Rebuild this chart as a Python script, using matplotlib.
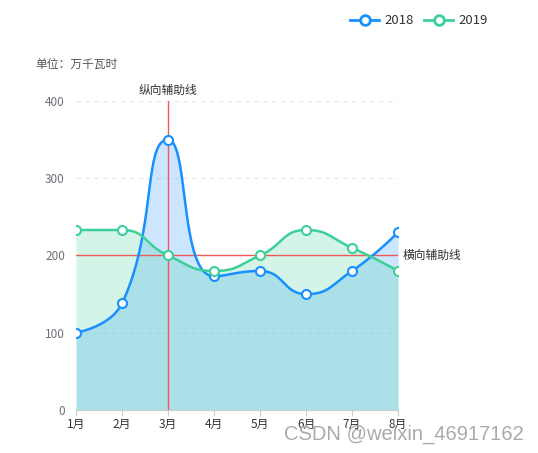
import numpy as np
import matplotlib
matplotlib.use("Agg")
import matplotlib.pyplot as plt
from matplotlib.lines import Line2D

plt.rcParams['font.family'] = ['Noto Sans CJK SC', 'DejaVu Sans']

months = ['1月', '2月', '3月', '4月', '5月', '6月', '7月', '8月']
y2018 = [100, 138, 350, 173, 180, 150, 180, 230]
y2019 = [233, 233, 200, 180, 200, 233, 210, 180]
mark_x = 2      # 3月
mark_y = 200

blue = '#1890ff'
green = '#3ccf9a'

W, H = 538, 453
fig = plt.figure(figsize=(W / 100, H / 100), dpi=100)
ax = fig.add_axes([76 / W, 43 / H, 322 / W, 309 / H])
ax.set_xlim(0, 7)
ax.set_ylim(0, 400)

# pixel scale, used for echarts-like smoothing
sx = 322 / 7
sy = 309 / 400


def smooth(xs, ys, k=0.5, n=40):
    # bezier smoothing with control points kept inside neighbour extremes
    px = np.array(xs, float) * sx
    py = np.array(ys, float) * sy
    m = len(px)
    cin = [(px[0], py[0])] * m
    cout = [(px[0], py[0])] * m
    cin[-1] = (px[-1], py[-1])
    for i in range(1, m - 1):
        x0, y0 = px[i - 1], py[i - 1]
        x, y = px[i], py[i]
        x2, y2 = px[i + 1], py[i + 1]
        vx, vy = x2 - x0, y2 - y0
        l0 = np.hypot(x - x0, y - y0)
        l1 = np.hypot(x2 - x, y2 - y)
        r = l1 / (l0 + l1)
        cx0 = x + vx * k * r
        cy0 = y + vy * k * r
        cx0 = max(min(cx0, max(x2, x)), min(x2, x))
        cy0 = max(min(cy0, max(y2, y)), min(y2, y))
        vx, vy = cx0 - x, cy0 - y
        cx1 = x - vx * l0 / l1
        cy1 = y - vy * l0 / l1
        cx1 = max(min(cx1, max(x0, x)), min(x0, x))
        cy1 = max(min(cy1, max(y0, y)), min(y0, y))
        vx, vy = x - cx1, y - cy1
        cx0 = x + vx * l1 / l0
        cy0 = y + vy * l1 / l0
        cin[i] = (cx1, cy1)
        cout[i] = (cx0, cy0)
    outx, outy = [], []
    t = np.linspace(0, 1, n)[:, None]
    for i in range(m - 1):
        p0 = np.array([px[i], py[i]])
        p1 = np.array(cout[i])
        p2 = np.array(cin[i + 1])
        p3 = np.array([px[i + 1], py[i + 1]])
        b = (1 - t) ** 3 * p0 + 3 * (1 - t) ** 2 * t * p1 + 3 * (1 - t) * t ** 2 * p2 + t ** 3 * p3
        outx.extend(b[:, 0])
        outy.extend(b[:, 1])
    return np.array(outx) / sx, np.array(outy) / sy


x = np.arange(len(months))
for y in [100, 200, 300, 400]:
    ax.axhline(y, color='#e0e6f1', lw=0.8, ls=(0, (4, 4)), zorder=0)

for ys, c in [(y2018, blue), (y2019, green)]:
    sxs, sys_ = smooth(x, ys)
    ax.fill_between(sxs, 0, sys_, color=c, alpha=0.22, lw=0, zorder=1)
    ax.plot(sxs, sys_, color=c, lw=1.8, zorder=3)
    ax.plot(x, ys, 'o', ms=6.5, mfc='white', mec=c, mew=1.5, zorder=4)

ax.axvline(mark_x, color='#ee5a5a', lw=1.0, zorder=2.5, snap=True)
ax.axhline(mark_y, color='#ee5a5a', lw=1.0, zorder=2.5, snap=True)
ax.text(mark_x, 405, '纵向辅助线', ha='center', va='bottom', fontsize=8.5, color='#333333')
ax.text(7.1, mark_y, '横向辅助线', ha='left', va='center', fontsize=8.5, color='#333333')

ax.set_xticks(x)
ax.set_xticklabels(months, fontsize=8.5, color='#333333')
ax.set_yticks([0, 100, 200, 300, 400])
ax.tick_params(axis='y', length=0, pad=8, labelsize=8.5, labelcolor='#6e7079')
ax.tick_params(axis='x', length=4, color='#cccccc', pad=2)
for s in ['top', 'right', 'left']:
    ax.spines[s].set_visible(False)
ax.spines['bottom'].set_color('#cccccc')
ax.patch.set_alpha(0)

fig.text(35 / W, 1 - 64 / H, '单位：万千瓦时', ha='left', va='center', fontsize=8.5, color='#555555')

# legend
handles = [Line2D([], [], color=blue, lw=2, marker='o', ms=7, mfc='white', mec=blue, mew=2),
           Line2D([], [], color=green, lw=2, marker='o', ms=7, mfc='white', mec=green, mew=2)]
fig.legend(handles, ['2018', '2019'], loc='center', bbox_to_anchor=(419 / W, 1 - 21 / H),
           ncol=2, frameon=False, fontsize=9.5, handlelength=2.2, columnspacing=0.8,
           handletextpad=0.4, labelcolor='#333333')

fig.text(524 / W, 1 - 434 / H, 'CSDN @weixin_46917162', ha='right', va='center',
         fontsize=14.5, color='#aaaaaa', family=['Liberation Sans', 'DejaVu Sans'])

fig.savefig('out.png', dpi=100)
